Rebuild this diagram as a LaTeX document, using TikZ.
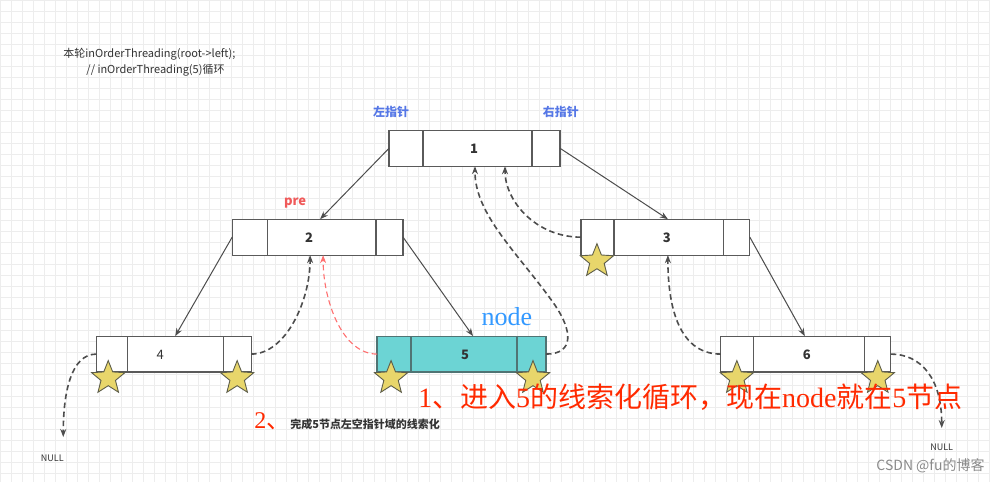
\documentclass[tikz,border=0pt]{standalone}
\usepackage{fontspec}
\setmainfont{Noto Sans CJK SC}
\newfontfamily\serifnum{Liberation Serif}
\usetikzlibrary{shapes.geometric,arrows.meta}
\definecolor{gridc}{HTML}{EDEDED}
\definecolor{boxc}{HTML}{5A5A5A}
\definecolor{linec}{HTML}{4D4D4D}
\definecolor{tealc}{HTML}{6CD4D4}
\definecolor{tealb}{HTML}{507474}
\definecolor{starf}{HTML}{E8D66B}
\definecolor{stard}{HTML}{5E5E4A}
\definecolor{ptrblue}{HTML}{5577E6}
\definecolor{nodeblue}{HTML}{3399FF}
\definecolor{prered}{HTML}{F05A5A}
\definecolor{bigred}{HTML}{FF2A00}
\definecolor{thrred}{HTML}{FF7070}
\definecolor{txtc}{HTML}{333333}
\definecolor{wmc}{HTML}{8A8A8A}
\begin{document}
\begin{tikzpicture}[x=1pt,y=-1pt,
  tbox/.style={draw=boxc, line width=1.2pt, fill=white, minimum height=36pt, inner sep=0pt, outer sep=0pt},
  tealbox/.style={tbox, draw=tealb, fill=tealc},
  divider/.style={draw=boxc, line width=1.2pt},
  numlbl/.style={font=\fontsize{13}{13}\selectfont\bfseries, text=txtc, inner sep=0pt},
  starshape/.style={star, star points=5, star point ratio=2.3, minimum size=35pt, inner sep=0pt, fill=starf, draw=stard, line width=0.9pt},
  tree/.style={draw=linec, line width=1pt, -{Stealth[length=8pt,width=6pt]}},
  thread/.style={draw=linec, line width=1.6pt, dash pattern=on 5.5pt off 3.5pt, -{Stealth[length=8pt,width=6pt]}},
  redthread/.style={thread, line width=1.1pt, draw=thrred, -{Stealth[length=8pt,width=6pt,fill=thrred]}},
  ptrlbl/.style={font=\fontsize{12}{12}\selectfont\bfseries, text=ptrblue, inner sep=0pt},
  nulllbl/.style={font=\fontsize{9}{9}\selectfont, text=txtc, inner sep=0pt}
]
\fill[white] (0,0) rectangle (990,482);
\draw[gridc, line width=0.6pt, step=11pt] (0,0) grid (990,482);
\useasboundingbox (0,0) rectangle (990,482);

% ---- nodes
\node[tbox, minimum width=171pt] (n1) at (474.5,148) {};
\draw[divider] ([xshift=34pt]n1.north west) -- ([xshift=34pt]n1.south west);
\draw[divider] ([xshift=-28pt]n1.north east) -- ([xshift=-28pt]n1.south east);
\node[numlbl] (l1) at (474,149) {1};

\node[tbox, minimum width=171pt] (n2) at (317.5,237) {};
\draw[divider] ([xshift=35pt]n2.north west) -- ([xshift=35pt]n2.south west);
\draw[divider] ([xshift=-27pt]n2.north east) -- ([xshift=-27pt]n2.south east);
\node[numlbl] (l2) at (309,238) {2};

\node[tbox, minimum width=169pt] (n3) at (665.5,237) {};
\draw[divider] ([xshift=33pt]n3.north west) -- ([xshift=33pt]n3.south west);
\draw[divider] ([xshift=-26pt]n3.north east) -- ([xshift=-26pt]n3.south east);
\node[numlbl] (l3) at (667,238) {3};

\node[tbox, minimum width=155pt] (n4) at (173.5,354) {};
\draw[divider] ([xshift=31pt]n4.north west) -- ([xshift=31pt]n4.south west);
\draw[divider] ([xshift=-28pt]n4.north east) -- ([xshift=-28pt]n4.south east);
\node[numlbl, font=\fontsize{13}{13}\selectfont] (l4) at (160,355) {4};

\node[tealbox, minimum width=169pt] (n5) at (461.5,354) {};
\draw[divider, draw=tealb] ([xshift=34pt]n5.north west) -- ([xshift=34pt]n5.south west);
\draw[divider, draw=tealb] ([xshift=-29pt]n5.north east) -- ([xshift=-29pt]n5.south east);
\node[numlbl] (l5) at (465,355) {5};

\node[tbox, minimum width=170pt] (n6) at (806,354) {};
\draw[divider] ([xshift=33pt]n6.north west) -- ([xshift=33pt]n6.south west);
\draw[divider] ([xshift=-26pt]n6.north east) -- ([xshift=-26pt]n6.south east);
\node[numlbl] (l6) at (807,355) {6};

% ---- tree edges
\draw[tree] (n1.west) -- ([xshift=2.5pt]n2.north);
\draw[tree] (n1.east) -- ([xshift=2.5pt]n3.north);
\draw[tree] (n2.west) -- ([xshift=1.5pt]n4.north);
\draw[tree] (n2.east) -- ([xshift=11.5pt]n5.north);
\draw[tree] (n3.east) -- ([xshift=-1pt]n6.north);

% ---- thread edges
\coordinate (nullL) at (63,437);
\coordinate (nullR) at (942,428);
\draw[thread] (n4.east) .. controls +(35,0) and +(0,45) .. ([xshift=-7.5pt]n2.south);
\draw[redthread] (n5.west) .. controls +(-35,0) and +(0,45) .. ([xshift=5.5pt]n2.south);
\draw[thread] (n5.east) .. controls (575,354) and (572,330) .. (555,305)
   .. controls (520,255) and (474.5,215) .. ([xshift=0.5pt]n1.south);
\draw[thread] (n3.west) .. controls +(-45,0) and +(0,35) .. ([xshift=30.5pt]n1.south);
\draw[thread] (n6.west) .. controls +(-45,0) and +(0,45) .. ([xshift=2.5pt]n3.south);
\draw[thread] (n4.west) .. controls +(-25,0) and +(0,-45) .. (nullL);
\draw[thread] (n6.east) .. controls +(30,0) and +(0,-50) .. (nullR);

% ---- stars
\node[starshape] (s3a) at ([xshift=16pt,yshift=-6pt]n3.south west) {};
\node[starshape] (s4a) at ([xshift=12pt,yshift=-6pt]n4.south west) {};
\node[starshape] (s4b) at ([xshift=-14pt,yshift=-6pt]n4.south east) {};
\node[starshape] (s5a) at ([xshift=14pt,yshift=-6pt]n5.south west) {};
\node[starshape] (s5b) at ([xshift=-13pt,yshift=-6pt]n5.south east) {};
\node[starshape] (s6a) at ([xshift=16pt,yshift=-6pt]n6.south west) {};
\node[starshape] (s6b) at ([xshift=-13pt,yshift=-6pt]n6.south east) {};

% ---- texts
\node[anchor=west, inner sep=0pt, font=\fontsize{11}{11}\selectfont, text=txtc] (c1) at (63,54) {本轮inOrderThreading(root->left);};
\node[anchor=west, inner sep=0pt, font=\fontsize{11}{11}\selectfont, text=txtc] (c2) at (86,70) {// inOrderThreading(5)循环};
\node[ptrlbl] (pl) at (391,112) {左指针};
\node[ptrlbl] (pr) at (561,112) {右指针};
\node[inner sep=0pt, font=\fontsize{13}{13}\selectfont\bfseries, text=prered] (pre) at (295,203) {pre};
\node[inner sep=0pt, font=\serifnum\fontsize{26}{26}\selectfont, text=nodeblue] (nodelbl) at (507,316) {node};
\node[anchor=west, inner sep=0pt, font=\fontsize{28}{28}\selectfont, text=bigred] (step1) at (418,397)
  {{\serifnum 1}、进入{\serifnum 5}的线索化循环，现在{\serifnum node}就在{\serifnum 5}节点};
\node[anchor=west, inner sep=0pt] (step2) at (254,421)
  {{\fontsize{24}{24}\selectfont\color{bigred}{\serifnum 2}、}{\fontsize{11}{11}\selectfont\bfseries\color{txtc}完成5节点左空指针域的线索化}};
\node[nulllbl] (nl) at (52,458) {NULL};
\node[nulllbl] (nr) at (942,447) {NULL};
\node[anchor=east, inner sep=0pt, font=\fontsize{14}{14}\selectfont, text=wmc] (wm) at (985,466) {CSDN @fu的博客};
\end{tikzpicture}
\end{document}
